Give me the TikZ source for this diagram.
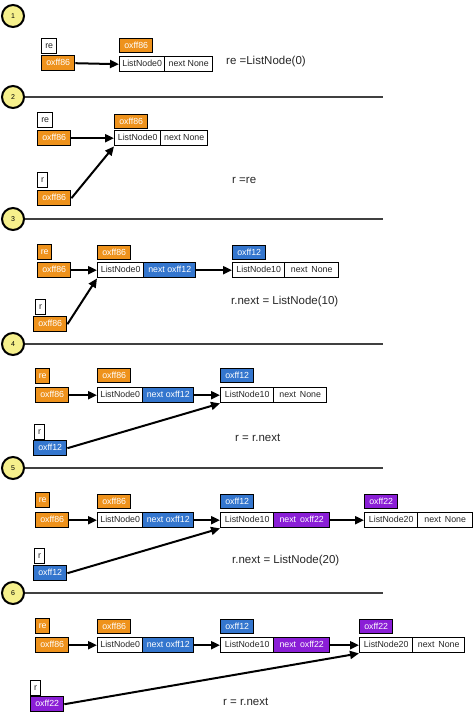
\documentclass[tikz,border=0pt]{standalone}
\usepackage{fontspec}
\setmainfont{Liberation Sans}
\usetikzlibrary{arrows.meta}
\definecolor{orangec}{RGB}{238,146,28}
\definecolor{bluec}{RGB}{52,118,206}
\definecolor{purplec}{RGB}{138,30,214}
\definecolor{yellowc}{RGB}{246,240,140}
\tikzset{
  cell/.style={draw=black, line width=1.4pt, inner sep=0pt, anchor=north west,
    minimum height=15pt, text height=6.4pt, text depth=1.7pt,
    font=\fontsize{8.8}{9}\selectfont},
  wd/.style={minimum width=#1},
  wht/.style={cell, fill=white, text=black!85},
  org/.style={cell, fill=orangec, text=white},
  blu/.style={cell, fill=bluec, text=white},
  pur/.style={cell, fill=purplec, text=white},
  tag/.style={minimum height=14pt},
  arr/.style={line width=2pt, -{Triangle[length=9pt,width=8pt]}},
  circ/.style={circle, draw=black, line width=2pt, fill=yellowc, minimum size=22pt,
    inner sep=0pt, font=\fontsize{7}{8}\selectfont},
  divl/.style={draw=black!75, line width=1.1pt},
  lbl/.style={anchor=west, inner sep=0pt, text=black!85, font=\fontsize{11.5}{13}\selectfont}
}
\begin{document}
\begin{tikzpicture}[x=1pt,y=-1pt]
\useasboundingbox (0,0) rectangle (474,718);
% Panel 1
\node[circ] (c1) at (13,16) {1};
\node[wht,wd=15] (p1re) at (41,38) {re};
\node[org,wd=33] (p1v) at (41,55) {oxff86};
\node[org,wd=33,tag] (p1a0) at (119,38) {oxff86};
\node[wht,wd=45] (p1n0) at (119,56) {ListNode0};
\node[wht,wd=48] (p1x0) at (164,56) {next None};
\draw[arr] (p1v.east) -- (p1n0.west);
\node[lbl] (p1t) at (226,62) {re =ListNode(0)};
% Divider 1 / Panel 2
\node[circ] (c2) at (13,97) {2};
\coordinate (d1) at (383,97);
\draw[divl] (c2.east) -- (d1);
\node[wht,wd=15] (p2re) at (37,112) {re};
\node[org,wd=33] (p2v) at (37,130) {oxff86};
\node[org,wd=33,tag] (p2a0) at (114,114) {oxff86};
\node[wht,wd=46] (p2n0) at (114,130) {ListNode0};
\node[wht,wd=47] (p2x0) at (160,130) {next None};
\node[wht,wd=10] (p2r) at (37,172) {r};
\node[org,wd=33] (p2rv) at (37,190) {oxff86};
\draw[arr] (p2v.east) -- (p2n0.west);
\draw[arr] (p2rv.east) -- (p2n0.south west);
\node[lbl] (p2t) at (232,180) {r =re};
% Divider 2 / Panel 3
\node[circ] (c3) at (13,219) {3};
\coordinate (d2) at (383,219);
\draw[divl] (c3.east) -- (d2);
\node[org,wd=14] (p3re) at (37,244) {re};
\node[org,wd=33] (p3v) at (37,262) {oxff86};
\node[org,wd=33,tag] (p3a0) at (97,245) {oxff86};
\node[wht,wd=46] (p3n0) at (97,262) {ListNode0};
\node[blu,wd=52] (p3x0) at (143,262) {next oxff12};
\node[blu,wd=33,tag] (p3a1) at (232,245) {oxff12};
\node[wht,wd=52] (p3n1) at (232,262) {ListNode10};
\node[wht,wd=54] (p3x1) at (284,262) {next\, None};
\node[wht,wd=10] (p3r) at (35,299) {r};
\node[org,wd=33] (p3rv) at (33,316) {oxff86};
\draw[arr] (p3v.east) -- (p3n0.west);
\draw[arr] (p3x0.east) -- (p3n1.west);
\draw[arr] (p3rv.east) -- (p3n0.south west);
\node[lbl] (p3t) at (231,302) {r.next = ListNode(10)};
% Divider 3 / Panel 4
\node[circ] (c4) at (13,344) {4};
\coordinate (d3) at (383,344);
\draw[divl] (c4.east) -- (d3);
\node[org,wd=14] (p4re) at (35,368) {re};
\node[org,wd=33] (p4v) at (35,387) {oxff86};
\node[org,wd=33,tag] (p4a0) at (97,368) {oxff86};
\node[wht,wd=45] (p4n0) at (97,387) {ListNode0};
\node[blu,wd=51] (p4x0) at (142,387) {next oxff12};
\node[blu,wd=33,tag] (p4a1) at (220,368) {oxff12};
\node[wht,wd=53] (p4n1) at (220,387) {ListNode10};
\node[wht,wd=53] (p4x1) at (273,387) {next\, None};
\node[wht,wd=10] (p4r) at (34,424) {r};
\node[blu,wd=33] (p4rv) at (33,440) {oxff12};
\draw[arr] (p4v.east) -- (p4n0.west);
\draw[arr] (p4x0.east) -- (p4n1.west);
\draw[arr] (p4rv.east) -- (p4n1.south west);
\node[lbl] (p4t) at (235,438) {r = r.next};
% Divider 4 / Panel 5
\node[circ] (c5) at (13,468) {5};
\coordinate (d4) at (383,468);
\draw[divl] (c5.east) -- (d4);
\node[org,wd=14] (p5re) at (35,492) {re};
\node[org,wd=33] (p5v) at (35,512) {oxff86};
\node[org,wd=33,tag] (p5a0) at (97,494) {oxff86};
\node[wht,wd=45] (p5n0) at (97,512) {ListNode0};
\node[blu,wd=51] (p5x0) at (142,512) {next oxff12};
\node[blu,wd=33,tag] (p5a1) at (220,494) {oxff12};
\node[wht,wd=53] (p5n1) at (220,512) {ListNode10};
\node[pur,wd=56] (p5x1) at (273,512) {next\, oxff22};
\node[pur,wd=33,tag] (p5a2) at (364,494) {oxff22};
\node[wht,wd=53] (p5n2) at (364,512) {ListNode20};
\node[wht,wd=55] (p5x2) at (417,512) {next\, None};
\node[wht,wd=10] (p5r) at (34,548) {r};
\node[blu,wd=33] (p5rv) at (33,565) {oxff12};
\draw[arr] (p5v.east) -- (p5n0.west);
\draw[arr] (p5x0.east) -- (p5n1.west);
\draw[arr] (p5x1.east) -- (p5n2.west);
\draw[arr] (p5rv.east) -- (p5n1.south west);
\node[lbl] (p5t) at (232,561) {r.next = ListNode(20)};
% Divider 5 / Panel 6
\node[circ] (c6) at (13,593) {6};
\coordinate (d5) at (383,593);
\draw[divl] (c6.east) -- (d5);
\node[org,wd=14] (p6re) at (35,618) {re};
\node[org,wd=33] (p6v) at (35,637) {oxff86};
\node[org,wd=33,tag] (p6a0) at (97,619) {oxff86};
\node[wht,wd=45] (p6n0) at (97,637) {ListNode0};
\node[blu,wd=51] (p6x0) at (142,637) {next oxff12};
\node[blu,wd=33,tag] (p6a1) at (220,619) {oxff12};
\node[wht,wd=53] (p6n1) at (220,637) {ListNode10};
\node[pur,wd=56] (p6x1) at (273,637) {next\, oxff22};
\node[pur,wd=33,tag] (p6a2) at (359,619) {oxff22};
\node[wht,wd=53] (p6n2) at (359,637) {ListNode20};
\node[wht,wd=52] (p6x2) at (412,637) {next\, None};
\node[wht,wd=10] (p6r) at (30,680) {r};
\node[pur,wd=33] (p6rv) at (30,696) {oxff22};
\draw[arr] (p6v.east) -- (p6n0.west);
\draw[arr] (p6x0.east) -- (p6n1.west);
\draw[arr] (p6x1.east) -- (p6n2.west);
\draw[arr] (p6rv.east) -- (p6n2.south west);
\node[lbl] (p6t) at (223,702) {r = r.next};
\end{tikzpicture}
\end{document}
